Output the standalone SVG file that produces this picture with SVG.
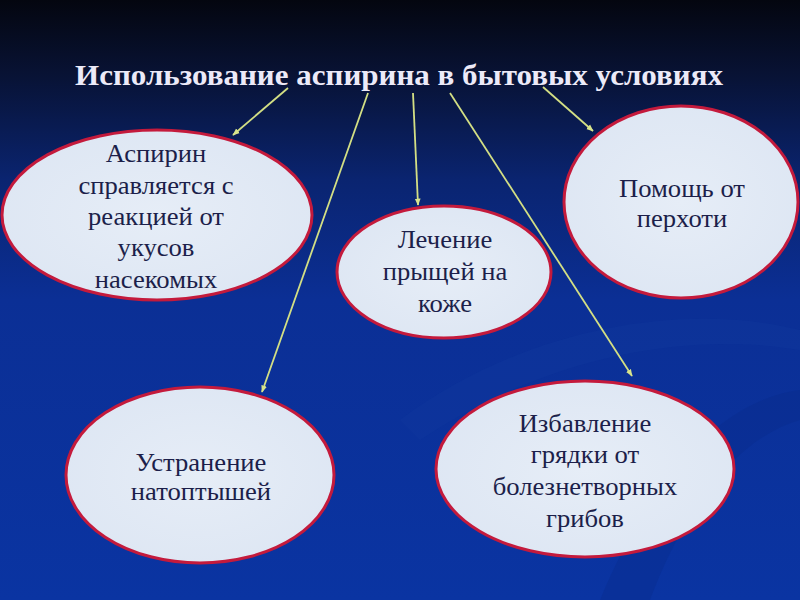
<svg xmlns="http://www.w3.org/2000/svg" width="800" height="600" viewBox="0 0 800 600">
  <defs>
    <linearGradient id="bg" x1="0" y1="0" x2="0" y2="1">
      <stop offset="0" stop-color="#04060f"/>
      <stop offset="0.12" stop-color="#081233"/>
      <stop offset="0.3" stop-color="#0a2470"/>
      <stop offset="0.5" stop-color="#0b2f95"/>
      <stop offset="1" stop-color="#0a34a2"/>
    </linearGradient>
    <radialGradient id="fill" cx="0.5" cy="0.5" r="0.6">
      <stop offset="0" stop-color="#e6edf7"/>
      <stop offset="1" stop-color="#dde6f3"/>
    </radialGradient>
    <marker id="arr" viewBox="0 0 10 10" refX="9" refY="5" markerWidth="4" markerHeight="4" orient="auto" markerUnits="strokeWidth">
      <path d="M0,1 L10,5 L0,9 z" fill="#d8e48c"/>
    </marker>
    <style>
      .node ellipse { fill: url(#fill); stroke: #c41a3c; stroke-width: 3; }
      .node text { font-family: "Liberation Serif", "Times New Roman", serif; font-size: 25px; fill: #1c1f4a; text-anchor: middle; }
      .title { font-family: "Liberation Serif", "Times New Roman", serif; font-size: 29px; font-weight: bold; fill: #eceaf8; }
      .conn line { stroke: #d3df84; stroke-width: 1.8; marker-end: url(#arr); }
    </style>
  </defs>

  <rect width="800" height="600" fill="url(#bg)"/>
  <path d="M400,420 C520,330 680,300 800,330 L800,350 C680,330 540,360 420,440 Z" fill="#123a9e" opacity="0.35"/>
  <path d="M600,600 C650,480 720,400 800,390 L800,420 C730,440 680,520 650,600 Z" fill="#0a2c8a" opacity="0.35"/>

  <text class="title" x="399" y="85" text-anchor="middle" textLength="648" lengthAdjust="spacingAndGlyphs">Использование аспирина в бытовых условиях</text>

  <g class="conn" id="connectors">
    <line x1="288" y1="88" x2="233" y2="135"/>
    <line x1="368" y1="93" x2="262" y2="392"/>
    <line x1="413" y1="93" x2="418" y2="205"/>
    <line x1="450" y1="93" x2="632" y2="376"/>
    <line x1="543" y1="87" x2="593" y2="131"/>
  </g>

  <g class="node" id="node-bites">
    <ellipse cx="157" cy="215" rx="155" ry="85"/>
    <g transform="matrix(1.065,0,0,1,-10.14,0)">
      <text x="156" y="162">Аспирин</text>
      <text x="156" y="194">справляется с</text>
      <text x="156" y="225">реакцией от</text>
      <text x="156" y="256">укусов</text>
      <text x="156" y="288">насекомых</text>
    </g>
  </g>

  <g class="node" id="node-acne">
    <ellipse cx="444" cy="272" rx="107" ry="66"/>
    <g transform="matrix(1.065,0,0,1,-28.93,0)">
      <text x="445" y="248">Лечение</text>
      <text x="445" y="280">прыщей на</text>
      <text x="445" y="312">коже</text>
    </g>
  </g>

  <g class="node" id="node-dandruff">
    <ellipse cx="681" cy="202" rx="117" ry="96"/>
    <g transform="matrix(1.065,0,0,1,-44.33,0)">
      <text x="682" y="197">Помощь от</text>
      <text x="682" y="227">перхоти</text>
    </g>
  </g>

  <g class="node" id="node-calluses">
    <ellipse cx="200" cy="475" rx="134" ry="88"/>
    <g transform="matrix(1.065,0,0,1,-13.07,0)">
      <text x="201" y="471">Устранение</text>
      <text x="201" y="500">натоптышей</text>
    </g>
  </g>

  <g class="node" id="node-fungi">
    <ellipse cx="585" cy="469" rx="149" ry="88"/>
    <g transform="matrix(1.065,0,0,1,-38.03,0)">
      <text x="585" y="432">Избавление</text>
      <text x="585" y="463">грядки от</text>
      <text x="585" y="495">болезнетворных</text>
      <text x="585" y="527">грибов</text>
    </g>
  </g>
</svg>
